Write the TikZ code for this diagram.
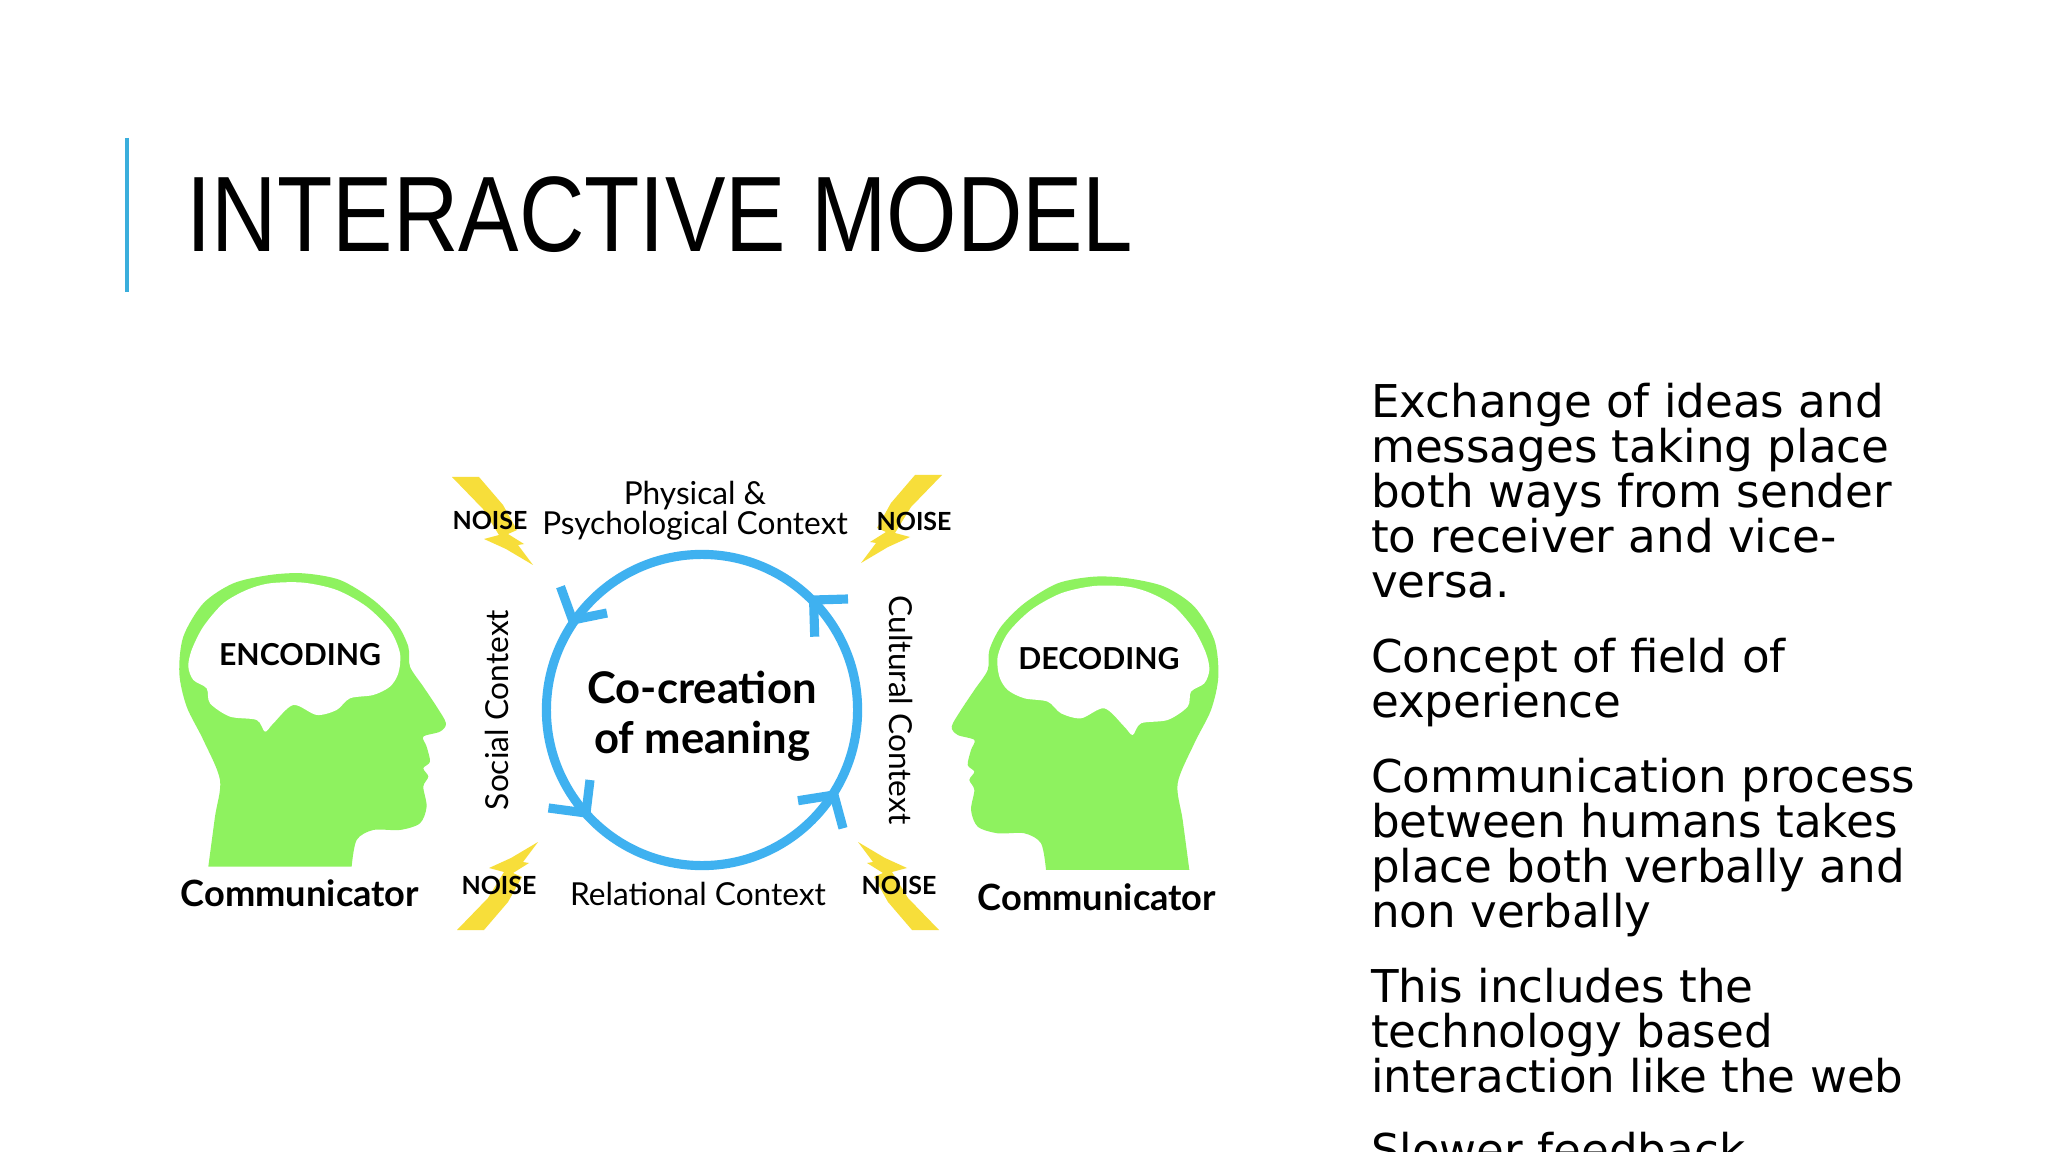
\documentclass[tikz,border=0pt]{standalone}
\usepackage{fontspec}
\usepackage{xcolor}
\usetikzlibrary{positioning,shapes.geometric}
\setmainfont{DejaVu Sans}
\newfontfamily\titlefont[FakeStretch=0.845]{Liberation Sans}
\newfontfamily\figfont{Lato}
\definecolor{headgreen}{HTML}{8EF25F}
\definecolor{loopblue}{HTML}{3FB1F0}
\definecolor{boltyellow}{HTML}{F7DE3A}
\definecolor{rulecyan}{HTML}{3AAEDC}
\tikzset{%
	bodytext/.style = {anchor=north west, align=left, inner sep=0pt, outer sep=0pt, font=\fontsize{12.85}{12.8}\selectfont\lineskiplimit-5pt\relax},
	figlabel/.style = {inner sep=0pt, font=\figfont\fontsize{9}{8.6}\selectfont},
	figbold/.style  = {inner sep=0pt, font=\figfont\bfseries\fontsize{8.6}{10}\selectfont},
	commlabel/.style= {inner sep=0pt, font=\figfont\bfseries\fontsize{10.3}{11}\selectfont},
	noisetext/.style= {inner sep=0pt, font=\figfont\bfseries\fontsize{7.1}{8}\selectfont},
	chevron/.style  = {draw=loopblue, line width=2.6pt},
	head/.pic = {
		\fill[headgreen] plot[smooth,tension=0.5] coordinates {(145,1280) (165,1130) (180,1020) (130,900) (80,800) (58,700) (70,590) (130,490) (220,430) (330,405) (430,400) (540,420) (640,480) (710,550) (745,620) (750,680) (790,740) (830,800) (858,850) (840,875) (790,890) (800,920) (810,965) (790,985) (805,1010) (790,1040) (800,1100) (780,1150) (720,1170) (640,1170) (590,1200) (575,1280)} -- cycle;
		\fill[white] plot[smooth cycle,tension=0.5] coordinates {(85,680) (95,630) (130,560) (190,490) (260,450) (330,430) (430,428) (530,450) (620,500) (690,570) (720,640) (715,700) (690,740) (640,765) (570,775) (530,810) (470,825) (400,795) (340,850) (315,875) (290,840) (210,830) (150,790) (140,745) (100,720)};
	},
	bolt/.pic = {
		\fill[boltyellow] (0,0) -- (27,0) -- (51,28) -- (65,53) -- (56,57) -- (72,67) -- (66,68) -- (81,88) -- (54,72) -- (32,62) -- (47,58) -- (31,32) -- cycle;
	},
}
\begin{document}
\begin{tikzpicture}[x=0.01cm,y=-0.01cm]
	\useasboundingbox (0,0) rectangle (2048,1152);
	\fill[white] (0,0) rectangle (2048,1152);
	\coordinate (rulea) at (127,138);
	\coordinate (ruleb) at (127,292);
	\draw[rulecyan,line width=0.9pt] (rulea) -- (ruleb);
	\node [anchor=base west,inner sep=0pt,font=\titlefont\fontsize{30.5}{31}\selectfont] (title) at (186,252) {INTERACTIVE MODEL};

	% heads and bolts
	\pic at (160,440) [xscale=0.3333,yscale=0.3333] {head};
	\pic at (1237.67,443.33) [xscale=-0.3333,yscale=0.3333] {head};
	\pic at (452,477) {bolt};
	\pic at (942,475) [xscale=-1] {bolt};
	\pic at (457,930) [yscale=-1] {bolt};
	\pic at (939,930) [xscale=-1,yscale=-1] {bolt};

	% loop
	\node [ellipse,draw=loopblue,line width=2.6pt,minimum width=3.11cm,minimum height=3.11cm,inner sep=0pt] (loop) at (702,710) {};
	\node [align=center,inner sep=0pt,font=\figfont\bfseries\fontsize{12.4}{14.2}\selectfont] (meaning) at (702,716) {Co-creation\\of meaning};
	\coordinate (tipa) at (572.6,620);
	\coordinate (tipb) at (813.6,600);
	\coordinate (tipc) at (586,813);
	\coordinate (tipd) at (834,795);
	\draw[chevron] (560.5,586.7) -- (tipa) -- (607,613);
	\draw[chevron] (848,599) -- (tipb) -- (814.7,636.7);
	\draw[chevron] (590,780) -- (tipc) -- (548.5,808);
	\draw[chevron] (798,800.7) -- (tipd) -- (843,828.3);

	% labels
	\node [figbold] (encoding) at (300,655) {ENCODING};
	\node [figbold] (decoding) at (1099,659) {DECODING};
	\node [commlabel] (commleft) at (300,893) {Communicator};
	\node [commlabel] (commright) at (1097,897) {Communicator};
	\node [noisetext] (noisea) at (490,520) {NOISE};
	\node [noisetext] (noiseb) at (914,521) {NOISE};
	\node [noisetext] (noisec) at (499,885) {NOISE};
	\node [noisetext] (noised) at (899,885) {NOISE};
	\node [figlabel,align=center] (physical) at (695,511) {Physical \&\\Psychological Context};
	\node [figlabel] (relational) at (698,894) {Relational Context};
	\node [figlabel,rotate=90] (social) at (497,710) {Social Context};
	\node [figlabel,rotate=-90] (cultural) at (901,710) {Cultural Context};

	% text column
	\node [bodytext] (para) at (1371,383) {\strut Exchange of ideas and\\messages taking place\\both ways from sender\\to receiver and vice-\\versa.\strut};
	\node [bodytext,below=0.27cm of para.south west,anchor=north west] (parb) {\strut Concept of field of\\experience\strut};
	\node [bodytext,below=0.27cm of parb.south west,anchor=north west] (parc) {\strut Communication process\\between humans takes\\place both verbally and\\non verbally\strut};
	\node [bodytext,below=0.27cm of parc.south west,anchor=north west] (pard) {\strut This includes the\\technology based\\interaction like the web\strut};
	\node [bodytext,below=0.27cm of pard.south west,anchor=north west] (pare) {\strut Slower feedback\strut};
\end{tikzpicture}
\end{document}
